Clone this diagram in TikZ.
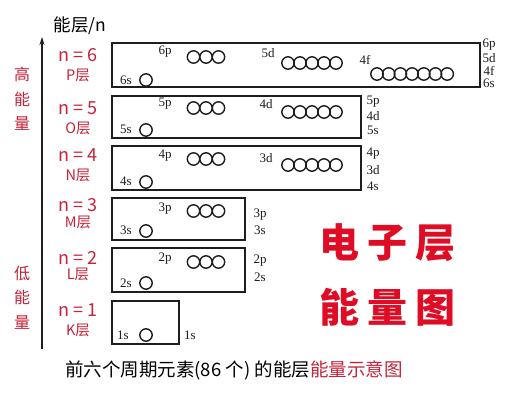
\documentclass[tikz,border=0pt]{standalone}
\usepackage{fontspec}
\setmainfont{Liberation Serif}
\newfontfamily\cjk{Noto Sans CJK SC}
\usetikzlibrary{arrows.meta}
\definecolor{labred}{RGB}{196,36,58}
\definecolor{bigred}{RGB}{222,12,36}
\definecolor{inkc}{RGB}{30,30,30}
\tikzset{
  lvlbox/.style={draw=inkc,line width=1.4pt},
  orb/.style={draw=inkc,line width=1.4pt},
  orblab/.style={font=\fontsize{13}{13}\selectfont,text=inkc,inner sep=0pt},
  nlab/.style={font=\cjk\fontsize{18}{18}\selectfont,text=labred,inner sep=0pt},
  shlab/.style={font=\cjk\fontsize{14.5}{14.5}\selectfont,text=labred,inner sep=0pt},
  vlab/.style={font=\cjk\fontsize{16}{16}\selectfont,text=labred,inner sep=0pt},
  bigt/.style={font=\cjk\bfseries\fontsize{40}{40}\selectfont,text=bigred,inner sep=0pt},
}
\newcommand{\orbrow}[4]{% n, x0, y, spacing
  \foreach \k in {1,...,#1}{\draw[orb] ({#2+(\k-1)*#4},#3) circle (6.2);}}
\begin{document}
\begin{tikzpicture}[x=1pt,y=-1pt]
\useasboundingbox[fill=white] (0,0) rectangle (511,404);
% title and axis
\node[font=\cjk\fontsize{17.5}{17.5}\selectfont,inner sep=0pt] (title) at (80,26) {能层/n};
\coordinate (axb) at (42,349);
\coordinate (axt) at (42,37);
\draw[line width=1.1pt,draw=inkc,-{Stealth[length=8pt,width=5pt]}] (axb) -- (axt);
% vertical labels
\node[vlab] (g1) at (22,74) {高};
\node[vlab] (g2) at (22,99) {能};
\node[vlab] (g3) at (22,123) {量};
\node[vlab] (d1) at (22,273) {低};
\node[vlab] (d2) at (22,297) {能};
\node[vlab] (d3) at (22,322) {量};
% n labels
\node[nlab] (n6) at (78,55) {n = 6};
\node[shlab] (s6) at (78,75) {P层};
\node[nlab] (n5) at (78,108) {n = 5};
\node[shlab] (s5) at (78,128) {O层};
\node[nlab] (n4) at (78,155) {n = 4};
\node[shlab] (s4) at (78,175) {N层};
\node[nlab] (n3) at (78,205) {n = 3};
\node[shlab] (s3) at (78,222) {M层};
\node[nlab] (n2) at (78,258) {n = 2};
\node[shlab] (s2) at (78,274) {L层};
\node[nlab] (n1) at (78,310) {n = 1};
\node[shlab] (s1) at (78,330) {K层};
% boxes
\draw[lvlbox] (112,43) rectangle (480,87);
\draw[lvlbox] (112,96) rectangle (361,138);
\draw[lvlbox] (112,146) rectangle (361,190);
\draw[lvlbox] (112,198) rectangle (245,240);
\draw[lvlbox] (112,248) rectangle (245,292);
\draw[lvlbox] (112,301) rectangle (179,344);
% box 6
\node[orblab] (l6s) at (126,80) {6s}; \orbrow{1}{146}{80}{12}
\node[orblab] (l6p) at (165,52) {6p}; \orbrow{3}{193.5}{57}{12.5}
\node[orblab] (l5d) at (268,53) {5d}; \orbrow{5}{288}{63}{12}
\node[orblab] (l4f) at (365,60) {4f}; \orbrow{7}{377}{74}{11.7}
\node[orblab] (r6p) at (489,45) {6p};
\node[orblab] (r5d) at (489,58) {5d};
\node[orblab] (r4f) at (489,70.5) {4f};
\node[orblab] (r6s) at (489,83) {6s};
% box 5
\node[orblab] (l5s) at (126,129) {5s}; \orbrow{1}{146}{130}{12}
\node[orblab] (l5p) at (165,104) {5p}; \orbrow{3}{193.5}{108}{12.5}
\node[orblab] (l4d) at (266,104) {4d}; \orbrow{5}{288}{112}{12}
\node[orblab] (r5p) at (373,102) {5p};
\node[orblab] (r4d) at (373,116) {4d};
\node[orblab] (r5s) at (373,130) {5s};
% box 4
\node[orblab] (l4s) at (126,181) {4s}; \orbrow{1}{146}{182}{12}
\node[orblab] (l4p) at (165,156) {4p}; \orbrow{3}{193.5}{159}{12.5}
\node[orblab] (l3d) at (266,158) {3d}; \orbrow{5}{288}{165}{12}
\node[orblab] (r4p) at (373,154) {4p};
\node[orblab] (r3d) at (373,170) {3d};
\node[orblab] (r4s) at (373,186) {4s};
% box 3
\node[orblab] (l3s) at (126,230) {3s}; \orbrow{1}{146}{231}{12}
\node[orblab] (l3p) at (165,209) {3p}; \orbrow{3}{193.5}{211}{12.5}
\node[orblab] (r3p) at (260,215) {3p};
\node[orblab] (r3s) at (260,230) {3s};
% box 2
\node[orblab] (l2s) at (126,283) {2s}; \orbrow{1}{146}{283}{12}
\node[orblab] (l2p) at (165,259) {2p}; \orbrow{3}{193.5}{262}{12.5}
\node[orblab] (r2p) at (260,261) {2p};
\node[orblab] (r2s) at (260,277) {2s};
% box 1
\node[orblab] (l1s) at (123,335) {1s}; \orbrow{1}{146}{335}{12}
\node[orblab] (r1s) at (190,335) {1s};
% big red text
\node[bigt] (big1) at (387,243) {电\hspace{8pt}子\hspace{8pt}层};
\node[bigt] (big2) at (387,307) {能\hspace{8pt}量\hspace{8pt}图};
% caption
\node[font=\cjk\fontsize{18.5}{18.5}\selectfont,inner sep=0pt,anchor=west] (cap) at (65,370) {前六个周期元素(86 个) 的能层\textcolor{labred}{能量示意图}};
\end{tikzpicture}
\end{document}
